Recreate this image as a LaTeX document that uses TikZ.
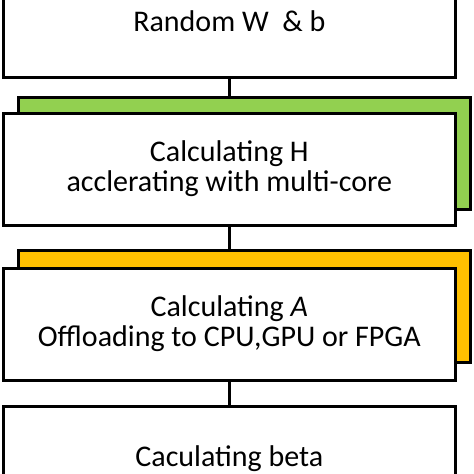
\documentclass[tikz,border=0pt]{standalone}
\usepackage{fontspec}
\setmainfont{Carlito}
\usetikzlibrary{positioning,backgrounds}
\definecolor{offgreen}{RGB}{146,208,80}
\definecolor{offorange}{RGB}{255,192,0}
\tikzset{
    %Define style for the step boxes
    stepbox/.style={
             rectangle,
             draw=black, line width=3pt,
             fill=white,
             minimum width=451.5pt, minimum height=112pt,
             align=center,
             font=\fontsize{30}{30}\selectfont},
    %Define style for the boxes behind
    backbox/.style={
             rectangle,
             draw=black, line width=3pt,
             minimum width=452pt, minimum height=112pt},
    % Define connector style
    steplink/.style={
            line width=2.5pt}
}
\begin{document}
\begin{tikzpicture}
 \useasboundingbox (0,0) rectangle (474pt,-474pt);
 \node[stepbox] (random) at (229.3pt,-21pt) {Random W~~\& b};
 \node[stepbox, below=33pt of random] (calch) {Calculating H\\acclerating with multi-core};
 \node[stepbox, below=40pt of calch] (calca) {Calculating \textit{A}\\Offloading to CPU,GPU or FPGA};
 \node[stepbox, below=23pt of calca, minimum height=106pt] (beta) {Caculating beta};
 \begin{pgfonlayer}{background}
  \draw[steplink] (random) -- (calch)
                  (calch) -- (calca)
                  (calca) -- (beta);
  \node[backbox, fill=offgreen] (hback) at ([shift={(15.5pt,15.5pt)}]calch.center) {};
  \node[backbox, fill=offorange] (aback) at ([shift={(15.5pt,17.5pt)}]calca.center) {};
 \end{pgfonlayer}
\end{tikzpicture}
\end{document}
